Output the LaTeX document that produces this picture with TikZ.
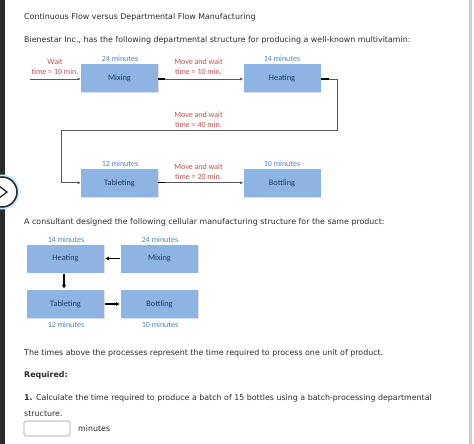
\documentclass[tikz,border=0pt]{standalone}
\usepackage{fontspec}
\setmainfont{DejaVu Sans}
\newfontfamily\labfont{Carlito}
\usetikzlibrary{shadows,arrows.meta}
\definecolor{boxblue}{HTML}{8DB4E2}
\definecolor{labblue}{HTML}{4F81BD}
\definecolor{labred}{HTML}{C0504D}
\definecolor{boxtext}{HTML}{1F3864}
\definecolor{bodytext}{HTML}{2B2B2B}
\definecolor{sidebar}{HTML}{2B2B2B}
\begin{document}
\begin{tikzpicture}[x=1pt,y=-1pt,
  body/.style={anchor=base west, inner sep=0, font=\fontsize{7.9}{9}\selectfont, text=bodytext},
  proc/.style={fill=boxblue, minimum width=77pt, minimum height=28pt, inner sep=0,
    font=\labfont\fontsize{8.3}{9}\selectfont, text=boxtext,
    drop shadow={shadow xshift=0.8pt, shadow yshift=-0.8pt, opacity=0.25}},
  tlab/.style={font=\labfont\fontsize{8}{9}\selectfont, text=labblue, inner sep=0},
  rlab/.style={font=\labfont\fontsize{8}{9.8}\selectfont, text=labred, inner sep=0, align=center},
  conn/.style={draw=black!65, line width=0.6pt, -{Latex[length=3.2pt,width=3pt]}},
  stub/.style={draw=black, line width=1.4pt},
  cellarrow/.style={draw=black, line width=1.2pt, -{Latex[length=4pt,width=4.5pt]}, shorten <=1pt, shorten >=1pt}
]
\useasboundingbox (0,0) rectangle (474,444);
\fill[white] (0,0) rectangle (474,444);
% page frame
\fill[sidebar] (0,0) rectangle (5,444);
\fill[black!20] (469,0) rectangle (472,444);
\draw[cyan!25, line width=3pt] (2,192) circle (16);
\draw[black!85, line width=1.5pt, fill=white] (2,192) circle (15);
\draw[black!85, line width=1.3pt] (-1,186) -- (7,192) -- (-1,198);

% body text
\node[body] (title) at (24,20) {Continuous Flow versus Departmental Flow Manufacturing};
\node[body] (intro) at (24,43) {Bienestar Inc., has the following departmental structure for producing a well-known multivitamin:};

% departmental structure
\coordinate (in) at (30,79);
\node[proc] (mix) at (119.5,78) {Mixing};
\node[proc] (heat) at (282,78) {Heating};
\node[proc] (tab) at (119.5,183) {Tableting};
\node[proc] (bot) at (282,183) {Bottling};
\node[tlab] (tmix) at (120,58.7) {24 minutes};
\node[tlab] (theat) at (282,58.7) {14 minutes};
\node[tlab] (ttab) at (120,163.7) {12 minutes};
\node[tlab] (tbot) at (282,163.7) {10 minutes};
\node[rlab] (w1) at (55,66.5) {Wait\\time = 10 min.};
\node[rlab] (w2) at (198.5,66.5) {Move and wait\\time = 10 min.};
\node[rlab] (w3) at (198.5,120) {Move and wait\\time = 40 min.};
\node[rlab] (w4) at (198.5,171.5) {Move and wait\\time = 20 min.};

\draw[conn] (in) -- (mix.west |- in);
\draw[conn] (mix.east |- in) -- (heat.west |- in);
\draw[conn] (heat.east |- in) -- (337,79) -- (337,130.7) -- (61.7,130.7) -- (61.7,182.7) -- (tab.west |- 0,182.7);
\draw[conn] (tab.east |- 0,182.7) -- (bot.west |- 0,182.7);
\draw[stub] (mix.east |- in) -- ++(7,0);
\draw[stub] (heat.east |- in) -- ++(8,0);
\draw[stub] (tab.east |- 0,182.7) -- ++(7,0);

\node[body] (cons) at (24,224) {A consultant designed the following cellular manufacturing structure for the same product:};

% cellular structure
\node[proc] (cheat) at (65.5,258.5) {Heating};
\node[proc] (cmix) at (159.5,258.5) {Mixing};
\node[proc] (ctab) at (65.5,304) {Tableting};
\node[proc] (cbot) at (159.5,304) {Bottling};
\node[tlab] (tcheat) at (66,239.3) {14 minutes};
\node[tlab] (tcmix) at (160,239.3) {24 minutes};
\node[tlab] (tctab) at (66,325) {12 minutes};
\node[tlab] (tcbot) at (160,325) {10 minutes};
\draw[cellarrow] (cmix.west) -- (cheat.east);
\draw[cellarrow] (cheat.south -| 64,0) -- (ctab.north -| 64,0);
\draw[cellarrow] (ctab.east) -- (cbot.west);

% question text
\node[body] (times) at (24,355.7) {The times above the processes represent the time required to process one unit of product.};
\node[body] (req) at (24,377.7) {\bfseries Required:};
\node[body] (q1) at (24,400.7) {\textbf{1.} Calculate the time required to produce a batch of 15 bottles using a batch-processing departmental};
\node[body] (q1b) at (24,416) {structure.};
\node[draw=black!40, line width=0.6pt, rounded corners=1.5pt, minimum width=46pt, minimum height=15pt, inner sep=0] (ans) at (47,428.5) {};
\node[body] (unit) at (78,431.7) {minutes};
\end{tikzpicture}
\end{document}
